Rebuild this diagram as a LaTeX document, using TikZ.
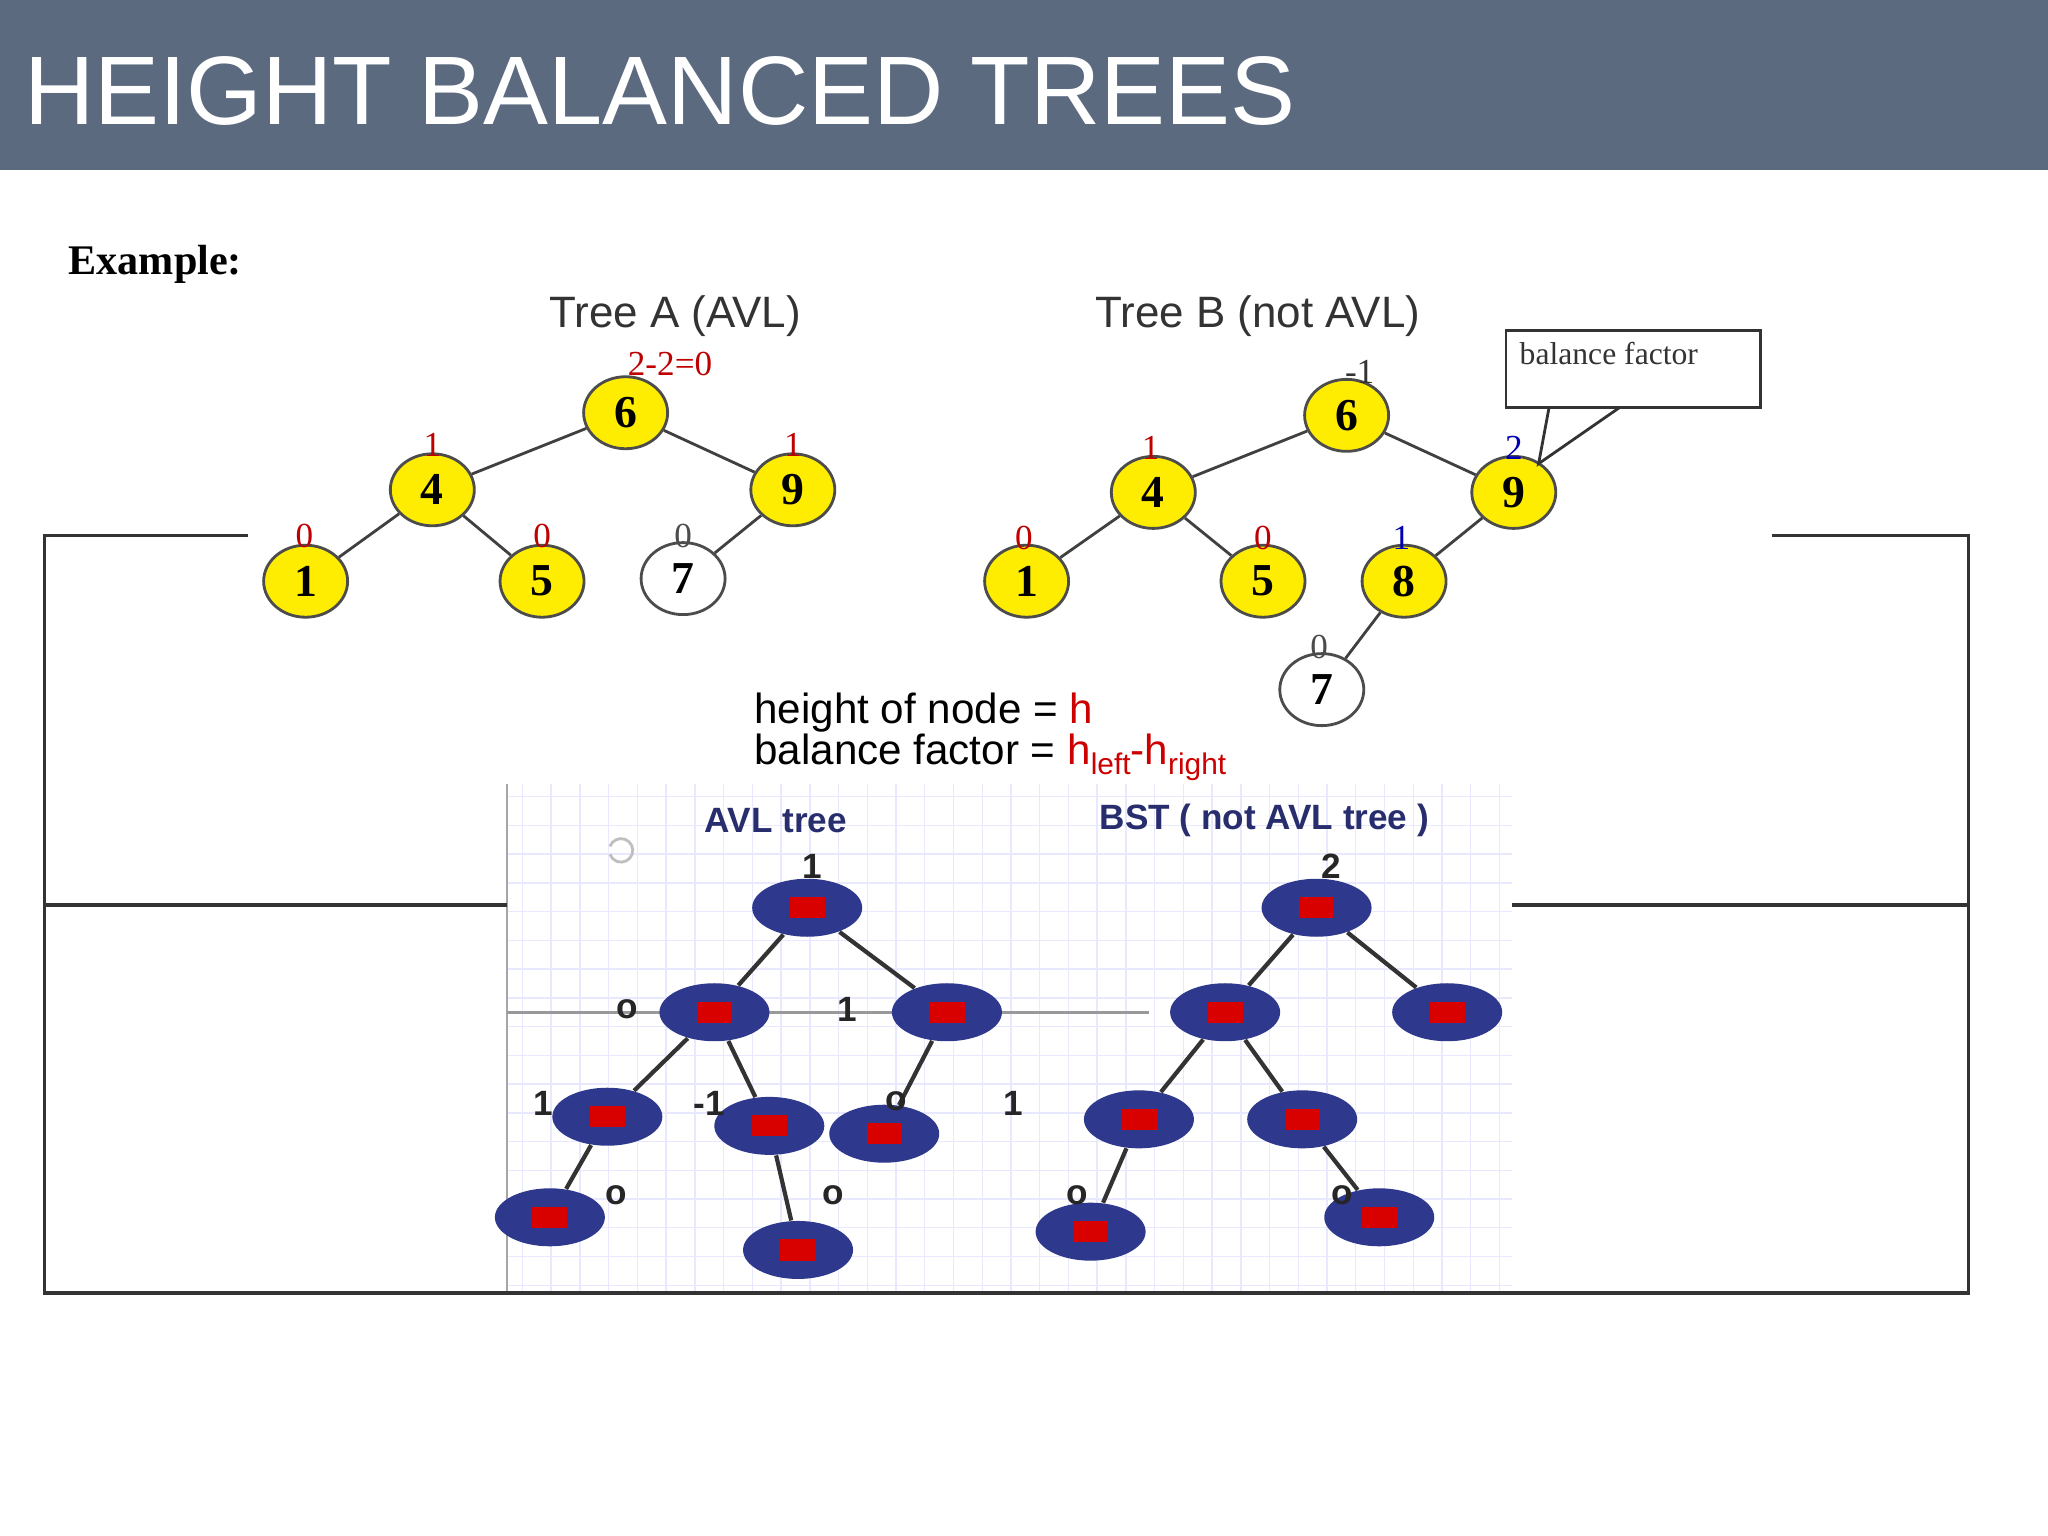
\documentclass[tikz,border=0pt]{standalone}
\usepackage{fontspec}
\setmainfont{Liberation Serif}
\setsansfont{Liberation Sans}
\newfontfamily\tnr{Liberation Serif}
\usetikzlibrary{shapes.geometric}
\definecolor{hdr}{RGB}{92,106,128}
\definecolor{navy}{RGB}{46,56,140}
\definecolor{dnavy}{RGB}{40,45,110}
\begin{document}
\begin{tikzpicture}[x=0.013061cm,y=-0.013061cm,
 yn/.style={ellipse,draw=black!70,fill=yellow!95!orange,line width=0.8pt,minimum width=0.84cm,minimum height=0.72cm,inner sep=0pt,font=\tnr\fontsize{13}{13}\bfseries},
 wn/.style={yn,fill=white},
 bn/.style={ellipse,fill=navy,minimum width=1.1cm,minimum height=0.58cm,inner sep=0pt,path picture={\fill[red!85!black] ([xshift=-5pt,yshift=-3pt]path picture bounding box.center) rectangle ++(10pt,6pt);}},
 ed/.style={draw=black!75,line width=0.8pt},
 be/.style={draw=black!80,line width=1.2pt},
 lbl/.style={font=\tnr\fontsize{10}{10}\selectfont,inner sep=0pt},
 bl/.style={font=\sffamily\bfseries\fontsize{10}{10}\selectfont,inner sep=0pt,text=black!85},
 ttl/.style={font=\sffamily\fontsize{12.5}{12.5}\selectfont,text=black!80},
 ]
\useasboundingbox (0,0) rectangle (1568,1176);
\fill[white] (0,0) rectangle (1568,1176);
\fill[hdr] (0,0) rectangle (1568,130);
\node[anchor=base west,text=white,font=\sffamily\fontsize{27.7}{27.7}\selectfont,inner sep=0pt] (title) at (18,95) {HEIGHT BALANCED TREES};
\node[anchor=base west,font=\tnr\fontsize{12}{12}\bfseries,inner sep=0pt] (ex) at (52,210) {Example:};
% grid
\foreach \gx in {400,422,...,1150} \draw[blue!9,line width=0.4pt] (\gx,600) -- (\gx,990);
\foreach \gy in {610,632,...,985} \draw[blue!9,line width=0.4pt] (388,\gy) -- (1158,\gy);
\draw[gray!70,line width=0.6pt] (388,600) -- (388,990);
\draw[gray!80,line width=0.8pt] (388,775) -- (880,775);
% frame
\draw[black!80,line width=1pt] (190,410) -- (34,410) -- (34,990) -- (1507,990) -- (1507,410) -- (1357,410);
\draw[black!80,line width=1pt] (34,693) -- (388,693);
\draw[black!80,line width=1pt] (1158,693) -- (1507,693);
% Tree A
\node[ttl] (ta) at (517,242) {Tree A (AVL)};
\node[yn] (a6) at (479,316) {6};
\node[yn] (a4) at (331,375) {4};
\node[yn] (a9) at (607,375) {9};
\node[yn] (a1) at (234,445) {1};
\node[yn] (a5) at (415,445) {5};
\node[wn] (a7) at (523,443) {7};
\draw[ed] (a6)--(a4); \draw[ed] (a6)--(a9); \draw[ed] (a4)--(a1); \draw[ed] (a4)--(a5); \draw[ed] (a9)--(a7);
\node[lbl,text=red!75!black] at (513,279) {2-2=0};
\node[lbl,text=red!75!black] at (331,341) {1};
\node[lbl,text=red!75!black] at (607,341) {1};
\node[lbl,text=red!75!black] at (233,410) {0};
\node[lbl,text=red!75!black] at (415,410) {0};
\node[lbl,text=black!70] at (523,410) {0};
% Tree B
\node[ttl] (tb) at (963,242) {Tree B (not AVL)};
\node[yn] (b6) at (1031,318) {6};
\node[yn] (b4) at (883,377) {4};
\node[yn] (b9) at (1159,377) {9};
\node[yn] (b1) at (786,445) {1};
\node[yn] (b5) at (967,445) {5};
\node[yn] (b8) at (1075,445) {8};
\node[wn] (b7) at (1012,528) {7};
\draw[ed] (b6)--(b4); \draw[ed] (b6)--(b9); \draw[ed] (b4)--(b1); \draw[ed] (b4)--(b5); \draw[ed] (b9)--(b8); \draw[ed] (b8)--(b7);
\node[lbl,text=black!80] at (1041,285) {-1};
\node[lbl,text=red!75!black] at (881,343) {1};
\node[lbl,text=blue!70!black] at (1159,343) {2};
\node[lbl,text=red!75!black] at (784,412) {0};
\node[lbl,text=red!75!black] at (967,412) {0};
\node[lbl,text=blue!70!black] at (1073,412) {1};
\node[lbl,text=black!70] at (1010,495) {0};
\draw[black!80,line width=0.8pt] (1153,253) rectangle (1348,312);
\node[anchor=west,text=black!80,font=\tnr\fontsize{9}{9}\selectfont,inner sep=0pt] (bf) at (1163,271) {balance factor};
\coordinate (tip) at (1178,355);
\draw[black!80,line width=0.8pt] (1186,312) -- (tip) -- (1240,312);
% formula
\node[anchor=base west,font=\sffamily\fontsize{12}{12}\selectfont,inner sep=0pt] (f1) at (577,554) {height of node = \textcolor{red!80!black}{h}};
\node[anchor=base west,font=\sffamily\fontsize{12}{12}\selectfont,inner sep=0pt] (f2) at (577,585) {balance factor = \textcolor{red!80!black}{h\raisebox{-3pt}{\fontsize{8.5}{8.5}\selectfont left}-h\raisebox{-3pt}{\fontsize{8.5}{8.5}\selectfont right}}};
% bottom trees
\node[bl,text=dnavy] (ta2) at (594,628) {AVL tree};
\node[bl,text=dnavy] (tb2) at (968,628) {BST ( not AVL tree )};
\draw[gray!50,line width=0.8pt] (467,648) arc (200:520:9);
\node[bn] (r) at (618,695) {};
\node[bn] (l) at (547,775) {};
\node[bn] (rr) at (725,775) {};
\node[bn] (ll) at (465,855) {};
\node[bn] (lr) at (589,862) {};
\node[bn] (rl) at (677,868) {};
\node[bn] (lll) at (421,932) {};
\node[bn] (lrr) at (611,957) {};
\draw[be] (r)--(l); \draw[be] (r)--(rr); \draw[be] (l)--(ll); \draw[be] (l)--(lr); \draw[be] (rr)--(rl); \draw[be] (ll)--(lll); \draw[be] (lr)--(lrr);
\node[bl] at (622,663) {1};
\node[bl] at (480,773) {o};
\node[bl] at (649,773) {1};
\node[bl] at (416,845) {1};
\node[bl] at (543,845) {-1};
\node[bl] at (686,843) {o};
\node[bl] at (776,845) {1};
\node[bl] at (472,915) {o};
\node[bl] at (638,915) {o};
\node[bn] (s) at (1008,695) {};
\node[bn] (sl) at (938,775) {};
\node[bn] (sr) at (1108,775) {};
\node[bn] (sll) at (872,857) {};
\node[bn] (slr) at (997,857) {};
\node[bn] (slll) at (835,943) {};
\node[bn] (slrr) at (1056,932) {};
\draw[be] (s)--(sl); \draw[be] (s)--(sr); \draw[be] (sl)--(sll); \draw[be] (sl)--(slr); \draw[be] (sll)--(slll); \draw[be] (slr)--(slrr);
\node[bl] at (1019,663) {2};
\node[bl] at (825,915) {o};
\node[bl] at (1028,915) {o};
\end{tikzpicture}
\end{document}
